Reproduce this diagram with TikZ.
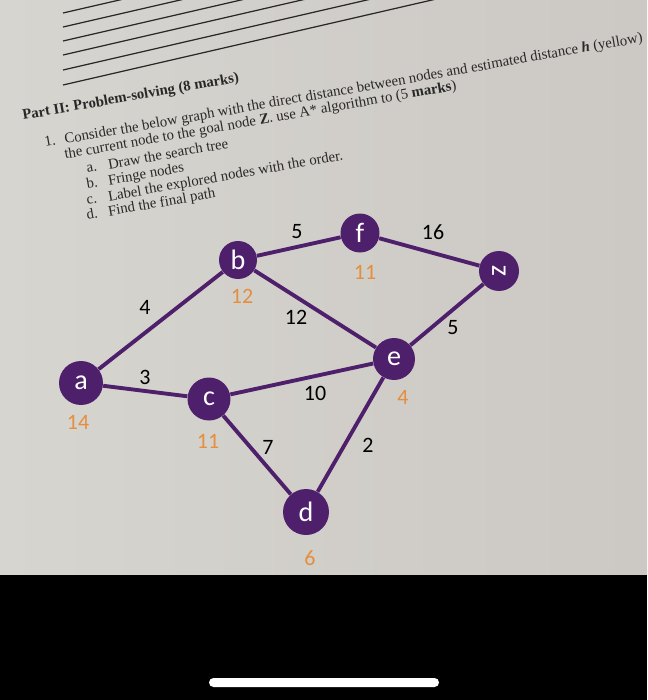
\documentclass[tikz,border=0pt]{standalone}
\usepackage{fontspec}
\setmainfont{Liberation Serif}
\newfontfamily\graphfont{Carlito}
\usepackage{xcolor}
\usetikzlibrary{positioning}
\definecolor{grape}{RGB}{78, 31, 107}
\definecolor{hcolor}{RGB}{228, 142, 62}
\definecolor{paperlight}{RGB}{233, 231, 228}
\definecolor{paperleft}{RGB}{214, 213, 208}
\definecolor{paperright}{RGB}{204, 200, 195}
\definecolor{inkgray}{RGB}{40, 40, 40}

\begin{document}
\begin{tikzpicture}[
    x=0.02cm, y=-0.02cm,
    vertex/.style={circle, fill=grape, text=white, inner sep=0pt, minimum size=0.84cm, font=\graphfont\fontsize{16}{16}\selectfont},
    link/.style={draw=grape, line width=2.2pt},
    weight/.style={text=black, inner sep=0pt, font=\graphfont\fontsize{12.5}{12.5}\selectfont},
    heur/.style={text=hcolor, inner sep=0pt, font=\graphfont\fontsize{12.5}{12.5}\selectfont},
    task/.style={anchor=base west, rotate=10, inner sep=0pt, text=inkgray, font=\fontsize{8.4}{10}\selectfont}
]
\useasboundingbox (0,0) rectangle (647,700);

% photo of the sheet
\shade[left color=paperleft, middle color=paperlight, right color=paperright] (0,0) rectangle (647,575);
\fill[black] (0,575) rectangle (647,700);
\fill[white, rounded corners=0.09cm] (209,678) rectangle (439,687);

% answer lines
\begin{scope}
\clip (0,0) rectangle (647,575);
\foreach \ly in {13,27,41,55,70,85}
    \draw[inkgray, line width=0.7pt] (63,\ly) -- ++(560,-129);
\end{scope}

% question text
\node[task] (part) at (23,120) {\textbf{Part II: Problem-solving (8 marks)}};
\node[task] (q1) at (45,147) {1.};
\node[task] (q1a) at (65,144) {Consider the below graph with the direct distance between nodes and estimated distance \textbf{\textit{h}} (yellow)};
\node[task] (q1b) at (65,159) {the current node to the goal node \textbf{Z}. use A* algorithm to (5 \textbf{marks})};
\node[task] (qa) at (87,173) {\makebox[0.44cm][l]{a.}Draw the search tree};
\node[task] (qb) at (87,189) {\makebox[0.44cm][l]{b.}Fringe nodes};
\node[task] (qc) at (87,205) {\makebox[0.44cm][l]{c.}Label the explored nodes with the order.};
\node[task] (qd) at (87,220) {\makebox[0.44cm][l]{d.}Find the final path};

% graph
\node[vertex, minimum size=0.88cm] (a) at (81,383) {a};
\node[vertex, minimum size=0.76cm] (b) at (238,260) {b};
\node[vertex, minimum size=0.86cm] (c) at (209,399) {c};
\node[vertex, minimum size=0.92cm] (d) at (306,512) {d};
\node[vertex] (e) at (394,359) {e};
\node[vertex, minimum size=0.78cm] (f) at (360,233) {f};
\node[vertex, minimum size=0.8cm] (z) at (499,271) {\rotatebox{90}{z}};

\draw[link] (a) -- (b);
\draw[link] (a) -- (c);
\draw[link] (b) -- (f);
\draw[link] (b) -- (e);
\draw[link] (f) -- (z);
\draw[link] (z) -- (e);
\draw[link] (c) -- (e);
\draw[link] (c) -- (d);
\draw[link] (e) -- (d);

% edge costs
\node[weight] (w-ab) at (145,307) {4};
\node[weight] (w-ac) at (145,377) {3};
\node[weight] (w-bf) at (297,232) {5};
\node[weight] (w-be) at (296,317) {12};
\node[weight] (w-fz) at (433,232) {16};
\node[weight] (w-ez) at (453,328) {5};
\node[weight] (w-ce) at (315,393) {10};
\node[weight] (w-cd) at (268,447) {7};
\node[weight] (w-de) at (368,445) {2};

% estimated distance h
\node[heur] (h-a) at (78,422) {14};
\node[heur] (h-b) at (242,296) {12};
\node[heur] (h-c) at (208,441) {11};
\node[heur] (h-d) at (310,558) {6};
\node[heur] (h-e) at (403,397) {4};
\node[heur] (h-f) at (365,272) {11};
\end{tikzpicture}
\end{document}
